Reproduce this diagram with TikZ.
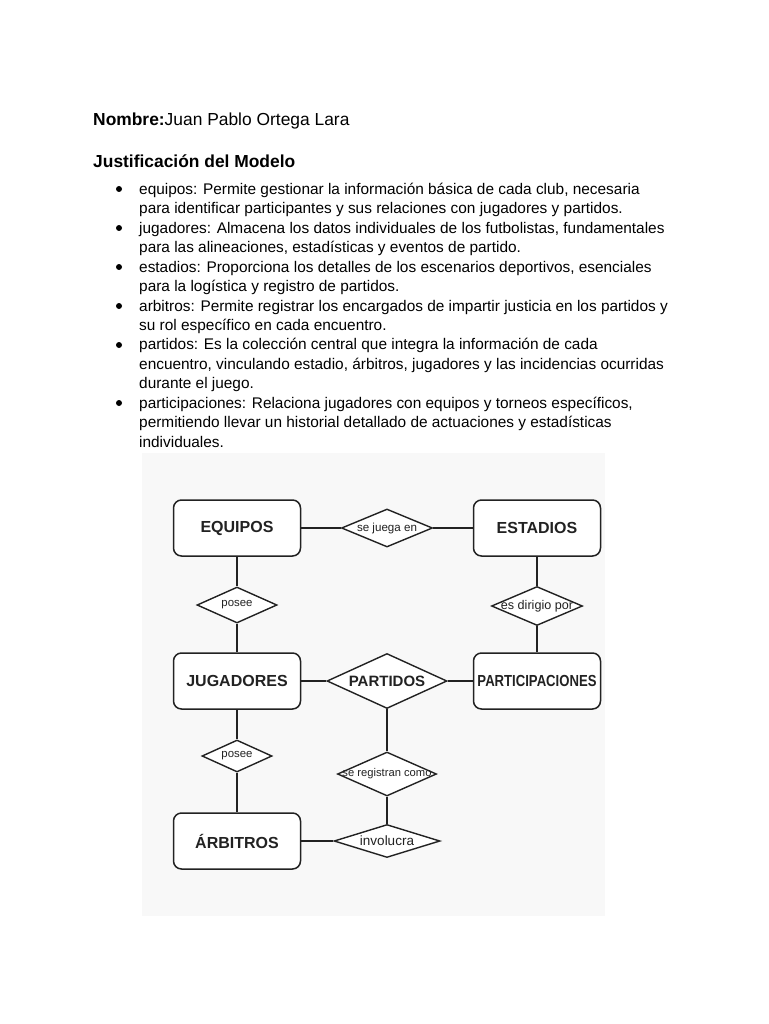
\documentclass[tikz,border=0pt]{standalone}
\usepackage{fontspec}
\setmainfont{Liberation Sans}
\usetikzlibrary{shapes.geometric}
\definecolor{bgimg}{RGB}{248,248,248}
\definecolor{ink}{RGB}{34,34,34}
\begin{document}
\begin{tikzpicture}[x=1pt,y=-1pt,
  txt/.style={anchor=base west, inner sep=0pt, font=\fontsize{15.4}{18}\selectfont},
  ent/.style={draw=ink, rounded corners=8pt, line width=1.5pt, minimum width=127pt, minimum height=56pt, fill=white, text=ink, font=\fontsize{16}{18}\selectfont\bfseries},
  rel/.style={draw=ink, diamond, line width=1.4pt, inner sep=0pt, fill=white, text=ink},
  lnk/.style={draw=ink, line width=1.5pt},
  dot/.style={fill=black}
]
\useasboundingbox (0,0) rectangle (768,1024);
\fill[white] (0,0) rectangle (768,1024);

% heading text
\node[txt, font=\fontsize{17.4}{20}\selectfont] (nombre) at (93,126) {\textbf{Nombre:}Juan Pablo Ortega Lara};
\node[txt, font=\fontsize{17.4}{20}\selectfont\bfseries] (just) at (93,167.5) {Justificación del Modelo};

\foreach \yy in {189,228,267,306,345,403} \fill[dot] (119,\yy) circle (3);

\node[txt] (l1) at (139,194.5) {equipos: Permite gestionar la información básica de cada club, necesaria};
\node[txt] (l2) at (139,213.9) {para identificar participantes y sus relaciones con jugadores y partidos.};
\node[txt] (l3) at (139,233.3) {jugadores: Almacena los datos individuales de los futbolistas, fundamentales};
\node[txt] (l4) at (139,252.8) {para las alineaciones, estadísticas y eventos de partido.};
\node[txt] (l5) at (139,272.2) {estadios: Proporciona los detalles de los escenarios deportivos, esenciales};
\node[txt] (l6) at (139,291.6) {para la logística y registro de partidos.};
\node[txt] (l7) at (139,311) {arbitros: Permite registrar los encargados de impartir justicia en los partidos y};
\node[txt] (l8) at (139,330.4) {su rol específico en cada encuentro.};
\node[txt] (l9) at (139,349.9) {partidos: Es la colección central que integra la información de cada};
\node[txt] (l10) at (139,369.3) {encuentro, vinculando estadio, árbitros, jugadores y las incidencias ocurridas};
\node[txt] (l11) at (139,388.7) {durante el juego.};
\node[txt] (l12) at (139,408.1) {participaciones: Relaciona jugadores con equipos y torneos específicos,};
\node[txt] (l13) at (139,427.5) {permitiendo llevar un historial detallado de actuaciones y estadísticas};
\node[txt] (l14) at (139,447) {individuales.};

% diagram background
\fill[bgimg] (142,453) rectangle (605,916);

% entities
\node[ent] (equipos) at (237,528) {EQUIPOS};
\node[ent] (estadios) at (537,528) {ESTADIOS};
\node[ent] (jugadores) at (237,681) {JUGADORES};
\node[ent] (particip) at (537,681) {\scalebox{0.82}[1]{PARTICIPACIONES}};
\node[ent] (arbitros) at (237,841) {ÁRBITROS};

% relations
\node[rel, minimum width=91pt, minimum height=38pt, font=\fontsize{11.6}{13}\selectfont] (juega) at (387,528) {\makebox[0pt]{se juega en}};
\node[rel, minimum width=80pt, minimum height=36pt, font=\fontsize{11.4}{13}\selectfont] (posee1) at (237,605) {\makebox[0pt]{posee}};
\node[rel, minimum width=91pt, minimum height=39pt, font=\fontsize{12.6}{14}\selectfont] (dirigio) at (537,606) {\makebox[0pt]{es dirigio por}};
\node[rel, minimum width=120pt, minimum height=55pt, font=\fontsize{15}{17}\selectfont\bfseries] (partidos) at (387,681) {\makebox[0pt]{PARTIDOS}};
\node[rel, minimum width=70pt, minimum height=32pt, font=\fontsize{11.4}{13}\selectfont] (posee2) at (237,756) {\makebox[0pt]{posee}};
\node[rel, minimum width=99pt, minimum height=44pt, font=\fontsize{11.2}{13}\selectfont] (registran) at (387,774) {\makebox[0pt]{se registran como}};
\node[rel, minimum width=106pt, minimum height=33pt, font=\fontsize{13.5}{15}\selectfont] (involucra) at (387,841) {\makebox[0pt]{involucra}};

% connectors
\draw[lnk] (equipos.east) -- (juega.west);
\draw[lnk] (juega.east) -- (estadios.west);
\draw[lnk] (equipos.south) -- (posee1.north);
\draw[lnk] (posee1.south) -- (jugadores.north);
\draw[lnk] (estadios.south) -- (dirigio.north);
\draw[lnk] (dirigio.south) -- (particip.north);
\draw[lnk, line width=2pt] (jugadores.east) -- (partidos.west);
\draw[lnk, line width=2pt] (partidos.east) -- (particip.west);
\draw[lnk] (jugadores.south) -- (posee2.north);
\draw[lnk] (posee2.south) -- (arbitros.north);
\draw[lnk] (partidos.south) -- (registran.north);
\draw[lnk] (registran.south) -- (involucra.north);
\draw[lnk] (arbitros.east) -- (involucra.west);
\end{tikzpicture}
\end{document}
